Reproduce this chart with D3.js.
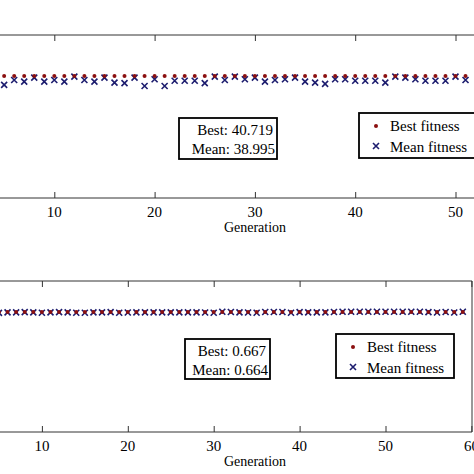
<!DOCTYPE html><html><head><script src="https://cdn.jsdelivr.net/npm/d3@7"></script>
<style>body{margin:0;background:#fff}text{font-family:"Liberation Serif",serif}</style></head><body>
<script>
const topGens=[5,6,7,8,9,10,11,12,13,14,15,16,17,18,19,20,21,22,23,24,25,26,27,28,29,30,31,32,33,34,35,36,37,38,39,40,41,42,43,44,45,46,47,48,49,50,51];
const topBest=topGens.map(()=>40.72);
const topMean=[40.37,40.56,40.50,40.65,40.50,40.56,40.50,40.69,40.56,40.50,40.65,40.46,40.44,40.65,40.33,40.59,40.33,40.53,40.53,40.53,40.44,40.69,40.56,40.69,40.59,40.65,40.50,40.56,40.59,40.65,40.50,40.46,40.41,40.59,40.59,40.53,40.53,40.53,40.46,40.69,40.65,40.59,40.53,40.53,40.53,40.69,40.56];
const botGens=[5,6,7,8,9,10,11,12,13,14,15,16,17,18,19,20,21,22,23,24,25,26,27,28,29,30,31,32,33,34,35,36,37,38,39,40,41,42,43,44,45,46,47,48,49,50,51,52,53,54,55,56,57,58,59];
const botBest=botGens.map(()=>0.667);
const botMean=[0.6665,0.6668,0.6668,0.6669,0.6668,0.6666,0.6668,0.6669,0.6668,0.6666,0.6666,0.6668,0.6668,0.6669,0.6666,0.6667,0.6668,0.6668,0.6668,0.6668,0.6668,0.6668,0.6668,0.6668,0.6667,0.6666,0.6671,0.6670,0.6668,0.6667,0.6666,0.6670,0.6670,0.6670,0.6666,0.6669,0.6668,0.6668,0.6668,0.6670,0.6671,0.6671,0.6671,0.6671,0.6671,0.6671,0.6671,0.6671,0.6671,0.6671,0.6669,0.6667,0.6670,0.6667,0.6671];
const xTicks=[10,20,30,40,50,60];
const W=474,H=474;
const svg=d3.select("body").append("svg").attr("width",W).attr("height",H);
const red="#8b1010",blue="#1c1c6e";
function panel(o){
  const x=d3.scaleLinear().domain([0,1]).range([o.x0,o.x0+o.dx/10]);
  const y=d3.scaleLinear().domain(o.yd).range([o.bot,o.top]);
  const g=svg.append("g");
  g.append("line").attr("x1",0).attr("x2",o.right).attr("y1",o.top).attr("y2",o.top).attr("stroke","#333");
  g.append("line").attr("x1",0).attr("x2",o.right).attr("y1",o.bot).attr("y2",o.bot).attr("stroke","#333");
  if(o.right<W) g.append("line").attr("x1",o.right).attr("x2",o.right).attr("y1",o.top).attr("y2",o.bot).attr("stroke","#333");
  const ticks=xTicks.filter(t=>x(t)<W+5);
  g.append("g").attr("transform",`translate(0,${o.bot})`).call(d3.axisTop(x).tickValues(ticks).tickSize(6).tickFormat(""))
   .call(a=>{a.select(".domain").remove();a.selectAll("line").attr("stroke","#333");});
  g.append("g").attr("transform",`translate(0,${o.top})`).call(d3.axisBottom(x).tickValues(ticks).tickSize(6).tickFormat(""))
   .call(a=>{a.select(".domain").remove();a.selectAll("line").attr("stroke","#333");});
  g.selectAll(".tl").data(ticks).join("text").attr("x",d=>x(d)).attr("y",o.bot+19).attr("text-anchor","middle").attr("font-size",15).text(d=>d);
  g.append("text").attr("x",o.labX).attr("y",o.bot+34).attr("text-anchor","middle").attr("font-size",14).text("Generation");
  g.selectAll(".m").data(o.gens).join("path").attr("transform",(d,i)=>`translate(${x(d)},${y(o.mean[i])})`)
   .attr("d","M-3,-3L3,3M-3,3L3,-3").attr("stroke",blue).attr("stroke-width",1.6);
  g.selectAll(".b").data(o.gens).join("circle").attr("cx",d=>x(d)).attr("cy",(d,i)=>y(o.best[i])).attr("r",2).attr("fill",red);
  const tb=o.tbox;
  g.append("rect").attr("x",tb[0]).attr("y",tb[1]).attr("width",tb[2]).attr("height",tb[3]).attr("fill","#fff").attr("stroke","#000").attr("stroke-width",1.8);
  g.append("text").attr("x",tb[0]+tb[2]-4).attr("y",tb[1]+17).attr("text-anchor","end").attr("font-size",15).text(o.t1);
  g.append("text").attr("x",tb[0]+tb[2]-2).attr("y",tb[1]+36).attr("text-anchor","end").attr("font-size",15).text(o.t2);
  const lb=o.lbox;
  g.append("rect").attr("x",lb[0]).attr("y",lb[1]).attr("width",lb[2]).attr("height",lb[3]).attr("fill","#fff").attr("stroke","#000").attr("stroke-width",1.8);
  g.append("circle").attr("cx",lb[0]+17).attr("cy",lb[1]+13).attr("r",2).attr("fill",red);
  g.append("path").attr("transform",`translate(${lb[0]+17},${lb[1]+33})`).attr("d","M-3,-3L3,3M-3,3L3,-3").attr("stroke",blue).attr("stroke-width",1.6);
  g.append("text").attr("x",lb[0]+31).attr("y",lb[1]+18).attr("font-size",15).text("Best fitness");
  g.append("text").attr("x",lb[0]+31).attr("y",lb[1]+39).attr("font-size",15).text("Mean fitness");
}
panel({x0:-46,dx:100.3,top:35,bot:198,right:W+2,yd:[36,42.3],gens:topGens,best:topBest,mean:topMean,labX:255,
  tbox:[179,118,98,41],t1:"Best: 40.719",t2:"Mean: 38.995",lbox:[359,113,120,45]});
panel({x0:-44,dx:85.9,top:281,bot:432,right:472,yd:[0.600,0.6843],gens:botGens,best:botBest,mean:botMean,labX:255,
  tbox:[185,339,85,40],t1:"Best: 0.667",t2:"Mean: 0.664",lbox:[336,334,118,44]});
</script></body></html>
